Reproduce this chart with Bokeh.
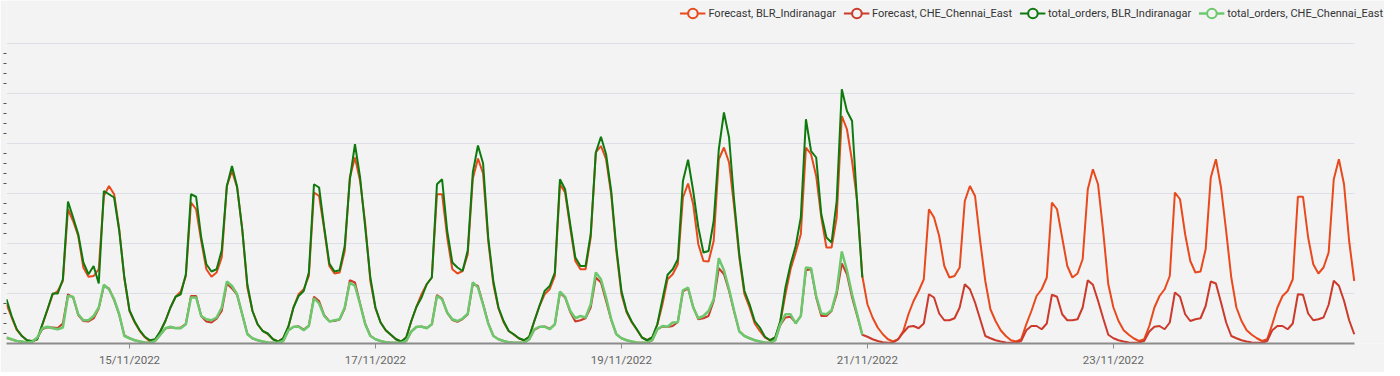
import numpy as np
import pandas as pd
from bokeh.plotting import figure
from bokeh.models import (Range1d, FixedTicker, DatetimeTickFormatter, Legend, LegendItem,
                          CustomJSTickFormatter)
from bokeh.embed import file_html
from bokeh.resources import INLINE

# ---------------- data ----------------
start_time = "2022-11-14 00:00"

forecast_blr = [
    15.7, 10.5, 5.5, 3, 1.3, 0.8, 1.7, 7.5, 13.5, 19.5, 21, 25, 53.7, 49, 43, 30.4, 26.7, 27, 29.7, 59, 63, 59.7, 45.7, 26,
    13, 8.5, 5, 2.5, 0.8, 1.5, 4.8, 9, 14.4, 18.7, 20.8, 27, 56.4, 53.7, 41, 29.7, 26.7, 28.4, 34.4, 63, 69, 62.4, 45.7, 22.4,
    13, 7.7, 5, 3.7, 1.7, 0.8, 2.1, 6.7, 14.4, 19.7, 21.7, 27, 60.4, 59, 45.7, 31, 28, 28.4, 37, 66.4, 74.4, 65, 48, 25,
    14, 8.4, 5.3, 3.5, 1.7, 0.8, 2.4, 9, 14.7, 19.7, 23.7, 26.4, 59.7, 59.7, 42.4, 29.7, 28, 29, 35.6, 66, 74, 68, 41, 23.7,
    14, 8.5, 5, 3.5, 2, 1.3, 2.7, 9, 15, 19.7, 21.7, 27, 63.7, 60.4, 46.4, 33, 29.7, 29.7, 42.4, 76.4, 79, 73.7, 59.7, 37,
    19.7, 12.5, 8.5, 5.5, 2.4, 1.3, 2.4, 7.5, 15.7, 25.7, 27.7, 31.7, 58.4, 64, 55.7, 39.7, 33, 32.8, 41, 73.7, 78.4, 72.4, 54.4, 34.4,
    19.7, 14.4, 8, 5, 2.4, 1.3, 2.4, 8.5, 19.7, 29.7, 36.4, 43.7, 78.4, 75.7, 67, 50.4, 38.4, 38.4, 50.4, 91, 85.7, 73, 57, 27,
    15.7, 10.4, 6.4, 3.7, 1.7, 0.8, 1.7, 5, 11.7, 17, 21, 25.7, 53.7, 50.4, 43, 31, 26.4, 27, 30.4, 57, 63, 59, 41, 25,
    13.7, 9, 5.3, 3, 1.3, 0.8, 1.7, 7.7, 13, 19, 21.7, 26.4, 56.4, 53.7, 42.4, 31, 26.4, 28, 33.7, 61.7, 69.7, 63.7, 45, 23.7,
    14.4, 9, 5.3, 3.5, 2, 1, 1.7, 7, 14.4, 19, 21.7, 27, 60.4, 57.7, 43.7, 33, 28.4, 28.8, 37.7, 66.4, 73.7, 62.4, 45, 26.4,
    14.4, 9, 5.3, 3.5, 2.1, 1, 1.7, 7.7, 14.4, 19, 21, 25.7, 58.7, 58.7, 42.4, 31.7, 28, 30.4, 36.4, 65.7, 73.7, 63.7, 41, 25,
]

forecast_che = [
    2.2, 1.6, 1, 0.7, 0.4, 0.6, 2.2, 5.8, 6.5, 6.4, 6.2, 8, 19.7, 18.4, 11.4, 9, 8.8, 10, 14, 23, 22, 17.4, 11.4, 3.2,
    2.1, 1.3, 0.8, 0.4, 0.3, 1, 3.5, 6, 6.5, 6.2, 6.4, 7.9, 19, 19, 11, 8.8, 8.4, 9.9, 13, 24, 22, 19.4, 11.6, 3.9,
    2, 1.3, 0.8, 0.4, 0.3, 0.3, 1, 5.2, 6.6, 6.9, 5.6, 7.2, 18.7, 17, 11.3, 8.9, 9, 9.6, 14, 25.3, 24.4, 16, 7.9, 3.1,
    1.7, 1, 0.5, 0.3, 0.3, 0.3, 1, 4.8, 6.6, 6.8, 6.2, 7.6, 19.4, 18, 12.2, 9.4, 8.7, 9.8, 11.6, 23.9, 23, 15.8, 8.2, 3.1,
    1.7, 1, 0.5, 0.3, 0.3, 0.3, 1.6, 5.5, 6.6, 6.8, 5.9, 7.6, 20.3, 18.4, 12.6, 8.8, 9.3, 10.1, 14.4, 26.4, 24.4, 17, 9.4, 3.7,
    2.1, 1.3, 0.8, 0.4, 0.3, 0.3, 1.3, 5.6, 6.8, 6.6, 7, 8.6, 20.8, 22, 14.6, 9.7, 10.1, 11, 17, 30.1, 27.7, 21, 12.6, 4.9,
    3, 2.1, 1.3, 0.8, 0.4, 0.3, 1.3, 7.4, 10.4, 10.7, 8.3, 11, 29.3, 29.7, 18.4, 11, 11, 13, 19.7, 32, 27.7, 18.4, 11, 3.5,
    2.7, 1.7, 1, 0.5, 0.3, 0.3, 1.7, 4.4, 6.7, 7, 6.1, 8, 19.7, 18.4, 12, 9.3, 9.3, 10.1, 14.4, 23.7, 21.7, 16.4, 9.7, 3,
    2.1, 1.3, 0.8, 0.4, 0.3, 0.3, 1, 5.3, 7, 7, 5.7, 8, 19.5, 18.7, 11.7, 9.3, 9.3, 9.7, 14.4, 25.3, 23.5, 17.1, 10.1, 3.5,
    2.1, 1.3, 0.8, 0.4, 0.3, 0.4, 1, 4.8, 6.7, 7, 5.7, 8.4, 20.4, 18.7, 11.7, 9, 9.7, 10.1, 15, 24.8, 24, 16.4, 8.4, 3,
    2.1, 1.3, 0.8, 0.4, 0.3, 0.3, 1, 5.3, 7, 7, 5.7, 8, 19.7, 19.5, 12, 9.3, 9.7, 10.4, 15.5, 25.1, 23.1, 17.1, 9.3, 3.7,
]

orders_blr = [
    17.7, 11, 5.7, 3, 1.3, 1, 1.7, 7.7, 13.7, 20, 20, 25.7, 56.8, 50.4, 43.7, 32.4, 27.7, 31, 24, 61, 59.7, 58.4, 45, 26.4,
    13.3, 8.8, 5.3, 2.7, 1.3, 1.7, 4.8, 9, 14.4, 18.7, 19.7, 27.7, 59.7, 58.7, 42.4, 31.7, 28.8, 29.7, 37.3, 63, 71, 62.7, 45.7, 23.7,
    13, 7.7, 5, 4, 1.7, 0.8, 2.1, 6.7, 14.4, 19, 21, 28.4, 63.7, 62.4, 46.4, 32, 28.8, 29.3, 39, 65.7, 79.7, 66.4, 46.4, 26.4,
    14.4, 8.4, 5.3, 3.5, 1.7, 0.8, 2.4, 9, 14.7, 18.4, 23.7, 26.4, 63.7, 65.7, 45, 32.4, 30.4, 29, 37.2, 68.5, 79.2, 72, 42.4, 25,
    14.4, 9, 5, 3.7, 2.1, 1.3, 2.7, 9, 15, 21, 23, 28.4, 65.7, 61.7, 47.7, 34.4, 31, 31, 43.7, 76.4, 82.7, 75.7, 61, 38.4,
    21, 13, 8.8, 5.7, 2.4, 1.3, 2.4, 7.7, 17.7, 27.5, 29.7, 33.7, 65, 73.5, 61, 46.4, 36.4, 37, 49, 77.7, 92.4, 82.4, 57, 35.7,
    21, 15.7, 9, 6.4, 2.7, 1.3, 2.4, 9, 22.4, 31.7, 39, 50.4, 89.7, 77, 74.4, 51.7, 42.4, 40.4, 57, 101.7, 93, 89, 55.7, 26.4,
]

orders_che = [
    2.4, 1.7, 1, 0.8, 0.4, 0.7, 2.4, 6.1, 6.7, 6.1, 5.7, 6.4, 19, 18.7, 11.7, 9.3, 9.3, 11, 14.4, 23.5, 21.7, 17.7, 11.7, 3,
    2.1, 1.3, 0.8, 0.4, 0.3, 1, 3.5, 6.1, 6.7, 6.1, 6.1, 7.7, 18.4, 18.4, 11, 9.7, 9.3, 10.4, 14.4, 24.8, 23, 19.7, 11.7, 3.7,
    2.1, 1.3, 0.8, 0.4, 0.3, 0.3, 1, 5.3, 6.7, 6.7, 5.3, 7, 18.1, 16, 11, 8.8, 9.3, 9.7, 14.4, 24.4, 23, 15.7, 7.7, 3,
    1.7, 1, 0.5, 0.3, 0.3, 0.3, 1, 4.8, 6.7, 6.7, 6.1, 7.7, 19, 17.7, 12.4, 9.7, 9, 10, 11.9, 24.5, 22.4, 15.5, 8, 3,
    1.7, 1, 0.5, 0.3, 0.3, 0.3, 1.7, 5.7, 6.7, 6.7, 5.7, 7.7, 20.8, 18.7, 13.1, 10.1, 11, 10.4, 15.7, 28.4, 25.7, 18.4, 9.7, 3.7,
    2.1, 1.3, 0.8, 0.4, 0.3, 0.3, 1.3, 5.7, 7, 6.7, 8.4, 8.5, 21.3, 22.4, 14.4, 10.1, 11, 13, 17.7, 34.1, 29.3, 21.7, 13, 4.8,
    3, 2.1, 1.3, 0.8, 0.4, 0.3, 1.3, 7.7, 11.7, 11.7, 8, 11, 30.4, 30.1, 19, 12, 11.7, 13.3, 21, 36.8, 29.3, 19.7, 11.7, 3.5,
]

series_labels = ["Forecast, BLR_Indiranagar", "Forecast, CHE_Chennai_East",
                 "total_orders, BLR_Indiranagar", "total_orders, CHE_Chennai_East"]
x_tick_dates = ["2022-11-15", "2022-11-17", "2022-11-19", "2022-11-21", "2022-11-23"]
y_major = [0, 20, 40, 60, 80, 100, 120]
y_minor = [v for v in range(0, 121, 4) if v % 20 != 0]
y_top = 137.2      # headroom above the top grid line, where the legend sits
x_pad_hours = 5.9  # room on the right of the data for the end of the legend

# ---------------- styling ----------------
BG = "#F3F3F3"
COLORS = ["#E8491D", "#CC3A2C", "#0E7A0E", "#6DC86D"]
GRID = "#DCDFE6"
FONT = "Roboto"

times_fc = pd.date_range(start_time, periods=len(forecast_blr), freq="h")
times_act = times_fc[:len(orders_blr)]
t0, t1 = times_fc[0], times_fc[-1]

p = figure(width=1384, height=372, x_axis_type="datetime",
           output_backend="svg", toolbar_location=None,
           x_range=Range1d(t0, t1 + pd.Timedelta(hours=x_pad_hours)), y_range=Range1d(0, y_top),
           min_border_left=0, min_border_right=0, min_border_top=0, min_border_bottom=29,
           background_fill_color=BG, border_fill_color=BG)
p.outline_line_color = None

# x axis
tick_ms = [pd.Timestamp(d).value / 1e6 for d in x_tick_dates]
p.xaxis.ticker = FixedTicker(ticks=tick_ms)
fmt = "%d/%m/%Y"
p.xaxis.formatter = DatetimeTickFormatter(days=fmt, months=fmt, years=fmt, hours=fmt,
                                          hourmin=fmt, minutes=fmt, seconds=fmt)
p.xaxis.bounds = (t0, t1)
p.xaxis.axis_line_color = "#8C8C8C"
p.xaxis.axis_line_width = 2
p.xaxis.major_tick_line_color = "#8C8C8C"
p.xaxis.major_tick_out = 5
p.xaxis.major_tick_in = 0
p.xaxis.minor_tick_line_color = None
p.xaxis.major_label_text_font = FONT
p.xaxis.major_label_text_font_size = "11.5px"
p.xaxis.major_label_text_color = "#666666"
p.xaxis.major_label_standoff = 4

# y axis (no labels shown, minor ticks only)
p.yaxis.ticker = FixedTicker(ticks=y_major, minor_ticks=y_minor)
p.yaxis.formatter = CustomJSTickFormatter(code="return ''")
p.yaxis.axis_line_color = None
p.yaxis.major_tick_line_color = None
p.yaxis.minor_tick_line_color = "#555555"
p.yaxis.minor_tick_out = 3
p.yaxis.minor_tick_in = 0
p.yaxis.major_label_standoff = 0

# horizontal grid lines, spanning the data's time extent only
p.xgrid.grid_line_color = None
p.ygrid.grid_line_color = None
n_grid = len(y_major) - 1
p.segment(x0=[t0] * n_grid, x1=[t1] * n_grid, y0=y_major[1:], y1=y_major[1:],
          line_color=GRID, line_width=1)

# lines
r1 = p.line(times_fc, forecast_blr, line_color=COLORS[0], line_width=2)
r2 = p.line(times_fc, forecast_che, line_color=COLORS[1], line_width=2)
r3 = p.line(times_act, orders_blr, line_color=COLORS[2], line_width=2)
r4 = p.line(times_act, orders_che, line_color=COLORS[3], line_width=2.5)

# legend markers (hollow circles, only shown in the legend)
markers = []
for c in COLORS:
    markers.append(p.scatter([t0], [np.nan], marker="circle", size=10,
                             line_color=c, line_width=2, fill_color=BG))

items = [LegendItem(label=lab, renderers=[r, m])
         for lab, r, m in zip(series_labels, [r1, r2, r3, r4], markers)]
legend = Legend(items=items, orientation="horizontal", location="top_right",
                glyph_width=26, glyph_height=24, label_height=16, label_standoff=3,
                spacing=7, padding=0, margin=1, border_line_color=None,
                background_fill_alpha=0, label_text_font=FONT,
                label_text_font_size="11px", label_text_color="#333333")
p.add_layout(legend, "center")

open("out.html", "w").write(file_html(p, INLINE))
